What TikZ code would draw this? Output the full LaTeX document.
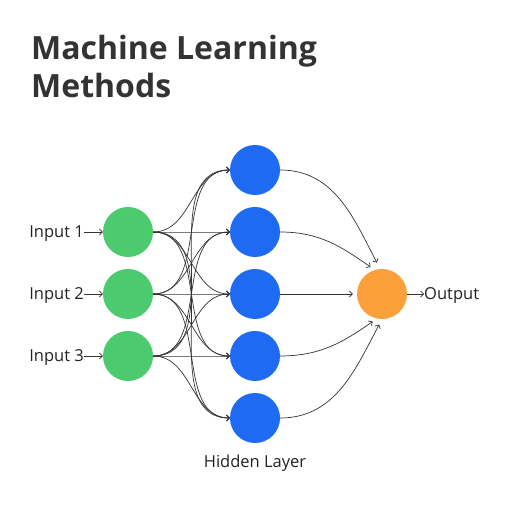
\documentclass[tikz,border=0pt]{standalone}
\usepackage{fontspec}
\setmainfont{Open Sans}
\usetikzlibrary{arrows.meta}
\definecolor{ngreen}{HTML}{4CCB6E}
\definecolor{nblue}{HTML}{1F6AF2}
\definecolor{norange}{HTML}{FBA03A}
\definecolor{ink}{HTML}{333333}
\definecolor{txt}{HTML}{222222}
\tikzset{
  neuron/.style={circle, minimum size=50pt, inner sep=0pt},
  inneuron/.style={neuron, fill=ngreen},
  hidneuron/.style={neuron, fill=nblue},
  outneuron/.style={neuron, fill=norange},
  conn/.style={draw=ink, line width=0.7pt, -{Straight Barb[length=3pt,width=6pt]}},
  lbl/.style={font=\fontsize{16.5}{19}\selectfont, text=txt, inner sep=0pt},
  ttl/.style={font=\fontsize{32}{38}\selectfont\bfseries, text=ink, inner sep=0pt, anchor=base west}
}
\begin{document}
\begin{tikzpicture}[x=1pt,y=1pt]
\useasboundingbox (0,0) rectangle (510,510);
\node[ttl] (t1) at (31,450) {Machine Learning};
\node[ttl] (t2) at (31,412) {Methods};
% input layer
\node[inneuron] (i1) at (128,278) {};
\node[inneuron] (i2) at (128,216) {};
\node[inneuron] (i3) at (128,154) {};
% hidden layer
\node[hidneuron] (h1) at (255,340) {};
\node[hidneuron] (h2) at (255,278) {};
\node[hidneuron] (h3) at (255,216) {};
\node[hidneuron] (h4) at (255,154) {};
\node[hidneuron] (h5) at (255,92) {};
% output
\node[outneuron] (o) at (382,216) {};
% labels
\node[lbl, anchor=base east] (l1) at (84,272) {Input 1};
\node[lbl, anchor=base east] (l2) at (84,210) {Input 2};
\node[lbl, anchor=base east] (l3) at (84,148) {Input 3};
\node[lbl, anchor=base west] (lo) at (424,210) {Output};
\node[lbl, anchor=base] (lh) at (255,42) {Hidden Layer};
% input arrows
\draw[conn] (l1.east |- i1.west) -- (i1.west);
\draw[conn] (l2.east |- i2.west) -- (i2.west);
\draw[conn] (l3.east |- i3.west) -- (i3.west);
\draw[conn] (o.east) -- (lo.west |- o.east);
% input to hidden
\foreach \i in {1,2,3}{
  \foreach \h in {1,...,5}{
    \draw[conn] (i\i.east) to[out=0,in=180] (h\h.west);
  }
}
% hidden to output
\draw[conn, shorten >=7pt] (h1.east) to[out=0,in=118] (o.94);
\draw[conn, shorten >=5pt] (h2.east) to[out=0,in=145] (o.107);
\draw[conn, shorten >=4pt] (h3.east) -- (o.west);
\draw[conn, shorten >=5pt] (h4.east) to[out=0,in=215] (o.258);
\draw[conn, shorten >=6pt] (h5.east) to[out=0,in=242] (o.270);
\end{tikzpicture}
\end{document}
